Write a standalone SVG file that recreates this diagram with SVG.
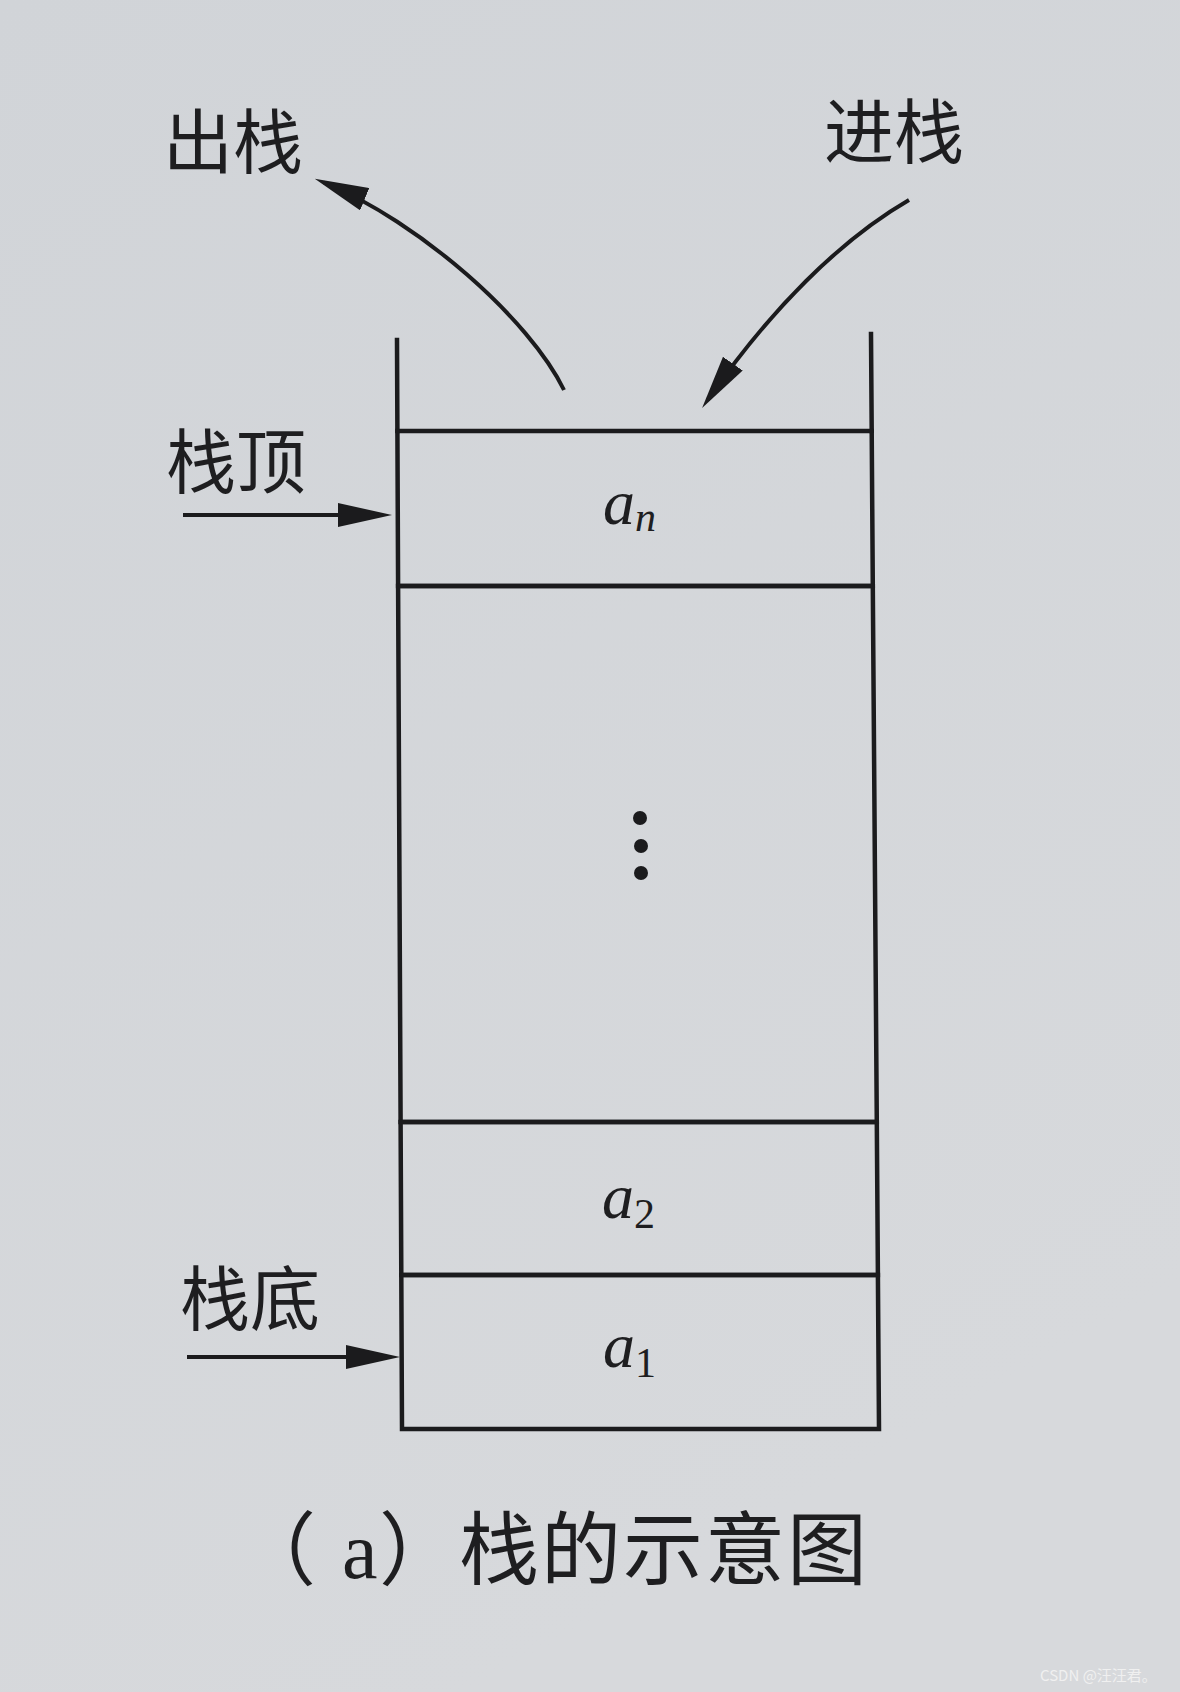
<svg xmlns="http://www.w3.org/2000/svg" width="1180" height="1692" viewBox="0 0 1180 1692">
<style>
.wall{stroke:#1b1b1d;stroke-width:4.5;fill:none;stroke-linecap:square}
.cell{stroke:#1b1b1d;stroke-width:4.5;fill:none}
.con{stroke:#1b1b1d;stroke-width:4;fill:none}
.cjk{font-family:"Noto Sans CJK SC","Noto Sans CJK JP",sans-serif;fill:#1e1e20}
.var{font-family:"Liberation Serif","Times New Roman",serif;font-style:italic;fill:#1e1e20}
.sub{font-style:normal}
</style>
<defs>
<linearGradient id="bg" x1="0" y1="0" x2="0.4" y2="1">
<stop offset="0" stop-color="#d1d4d8"/>
<stop offset="1" stop-color="#d7d9dc"/>
</linearGradient>
<marker id="ah" markerUnits="userSpaceOnUse" markerWidth="54" markerHeight="24" viewBox="0 0 54 24" refX="44" refY="12" orient="auto">
<path d="M0,0 L54,12 L0,24 Z" fill="#1b1b1d"/>
</marker>
</defs>
<rect width="1180" height="1692" fill="url(#bg)"/>

<g id="stack">
<g id="walls">
<line class="wall" x1="397" y1="340" x2="397.4" y2="431"/>
<line class="wall" x1="871" y1="334" x2="871.7" y2="431"/>
</g>
<g id="cell-an">
<path class="cell" d="M397.4,431 L871.7,431 L872.8,586 L398.1,586 Z"/>
<text class="var" x="603" y="524" font-size="64">a<tspan font-size="42" dy="7">n</tspan></text>
</g>
<g id="cell-dots">
<path class="cell" d="M398.1,586 L872.8,586 L876.8,1122 L400.6,1122 Z"/>
<circle cx="640" cy="818" r="7" fill="#1b1b1d"/>
<circle cx="641" cy="846" r="7" fill="#1b1b1d"/>
<circle cx="641" cy="873" r="7" fill="#1b1b1d"/>
</g>
<g id="cell-a2">
<path class="cell" d="M400.6,1122 L876.8,1122 L877.9,1275 L401.3,1275 Z"/>
<text class="var" x="602" y="1218" font-size="64">a<tspan class="sub" font-size="42" dy="10">2</tspan></text>
</g>
<g id="cell-a1">
<path class="cell" d="M401.3,1275 L877.9,1275 L879,1429 L402,1429 Z"/>
<text class="var" x="603" y="1367" font-size="64">a<tspan class="sub" font-size="42" dy="10">1</tspan></text>
</g>
</g>

<g id="label-pop"><text class="cjk" x="163" y="168" font-size="70">出栈</text></g>
<g id="label-push"><text class="cjk" x="824" y="158" font-size="70">进栈</text></g>
<g id="label-top"><text class="cjk" x="166" y="488" font-size="70">栈顶</text></g>
<g id="label-bottom"><text class="cjk" x="180" y="1325" font-size="70">栈底</text></g>

<g id="connectors">
<path class="con" d="M564,390 C530,320 420,222 324,182.5" marker-end="url(#ah)"/>
<path class="con" d="M909,200 C840,240 770,310 707.8,399.8" marker-end="url(#ah)"/>
<path class="con" d="M183,515 H382" marker-end="url(#ah)"/>
<path class="con" d="M187,1357 H390" marker-end="url(#ah)"/>
</g>

<g id="caption">
<text class="cjk" y="1578" font-size="80"><tspan x="236">（</tspan><tspan x="342" font-family="Liberation Serif, serif">a</tspan><tspan x="379">）</tspan><tspan x="459 541 623 705 787">栈的示意图</tspan></text>
</g>

<g id="watermark"><text class="cjk" x="1040" y="1681" font-size="15" style="fill:#f0f0f0">CSDN @汪汪君。</text></g>
</svg>
